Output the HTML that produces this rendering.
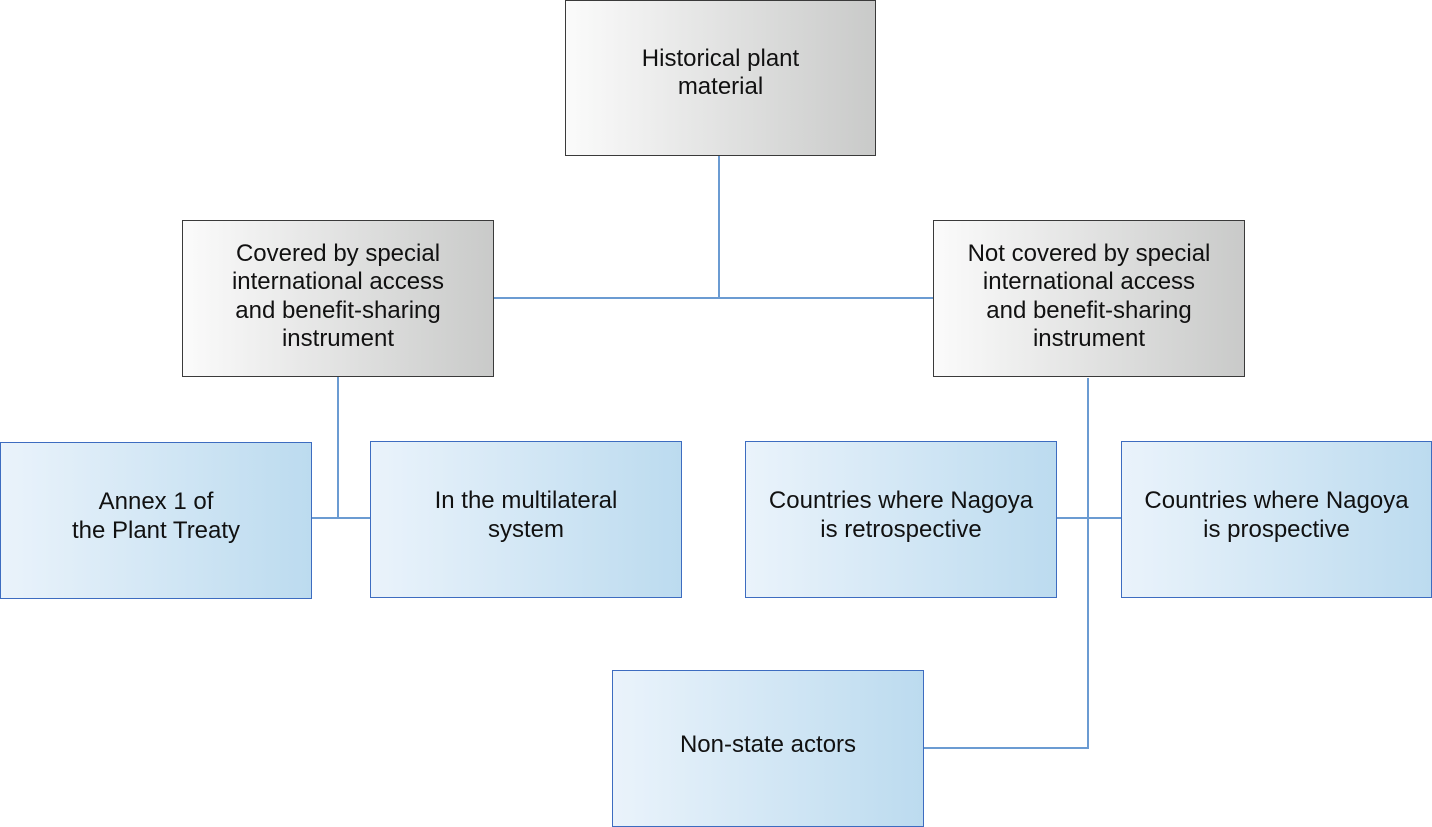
<!DOCTYPE html>
<html><head><meta charset="utf-8"><style>
body{margin:0;width:1432px;height:826px;background:#fff;position:relative;overflow:hidden;font-family:"Liberation Sans",Arial,sans-serif;}
.b{position:absolute;box-sizing:border-box;display:flex;align-items:center;justify-content:center;text-align:center;font-size:24px;line-height:28.5px;color:#111;}
.g{border:1px solid #3a3a3a;background:linear-gradient(to right,#fbfbfb,#c9cac9);}
.u{border:1px solid #3d6cc0;background:linear-gradient(to right,#eaf3fb,#bcdbef);}
.l{position:absolute;background:#6b9bd2;}
</style></head><body>
<div class="l" style="left:718px;top:155px;width:2px;height:144px"></div>
<div class="l" style="left:493px;top:297px;width:440px;height:2px"></div>
<div class="l" style="left:337px;top:376px;width:2px;height:143px"></div>
<div class="l" style="left:311px;top:517px;width:60px;height:2px"></div>
<div class="l" style="left:1087px;top:378px;width:2px;height:371px"></div>
<div class="l" style="left:1056px;top:517px;width:65px;height:2px"></div>
<div class="l" style="left:923px;top:747px;width:166px;height:2px"></div>

<div class="b g" style="left:565px;top:0;width:311px;height:156px;padding-bottom:10px">Historical plant<br>material</div>
<div class="b g" style="left:182px;top:220px;width:312px;height:157px;padding-bottom:4px">Covered by special<br>international access<br>and benefit-sharing<br>instrument</div>
<div class="b g" style="left:933px;top:220px;width:312px;height:157px;padding-bottom:4px">Not covered by special<br>international access<br>and benefit-sharing<br>instrument</div>
<div class="b u" style="left:0;top:442px;width:312px;height:157px;padding-bottom:8px">Annex 1 of<br>the Plant Treaty</div>
<div class="b u" style="left:370px;top:441px;width:312px;height:157px;padding-bottom:8px">In the multilateral<br>system</div>
<div class="b u" style="left:745px;top:441px;width:312px;height:157px;padding-bottom:8px">Countries where Nagoya<br>is retrospective</div>
<div class="b u" style="left:1121px;top:441px;width:311px;height:157px;padding-bottom:8px">Countries where Nagoya<br>is prospective</div>
<div class="b u" style="left:612px;top:670px;width:312px;height:157px;padding-bottom:6px">Non-state actors</div>
</body></html>
